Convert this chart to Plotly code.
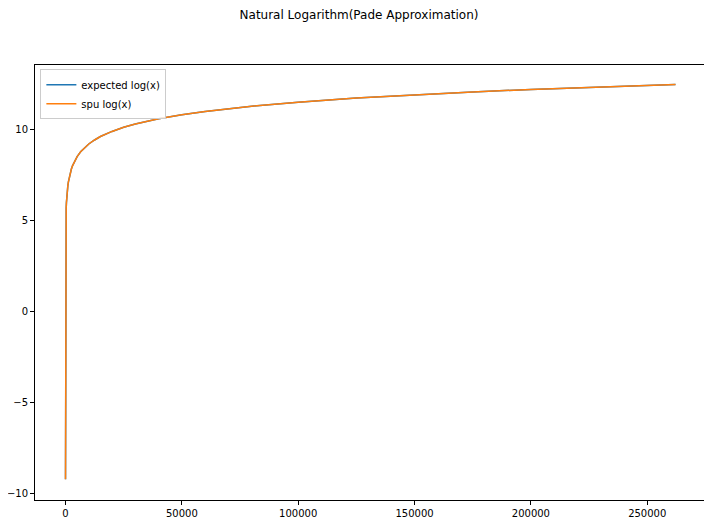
import plotly.graph_objs as go

# points (x, ln x)
x_vals = [0.0001, 0.001, 0.01, 0.1, 1, 10, 50, 100, 150, 200, 250, 300, 400, 500,
          600, 750, 1000, 1250, 1500, 1750, 2000, 2500, 3000, 3500, 4000, 5000,
          6500, 8000, 10000, 12500, 15000, 20000, 25000, 30000, 40000, 50000,
          60000, 80000, 100000, 125000, 150000, 175000, 200000, 225000, 250000,
          262144]
expected_log = [-9.21, -6.91, -4.61, -2.30, 0.00, 2.30, 3.91, 4.61, 5.01, 5.30, 5.52,
                5.70, 5.99, 6.21, 6.40, 6.62, 6.91, 7.13, 7.31, 7.47, 7.60, 7.82, 8.01,
                8.16, 8.29, 8.52, 8.78, 8.99, 9.21, 9.43, 9.62, 9.90, 10.13, 10.31,
                10.60, 10.82, 11.00, 11.29, 11.51, 11.74, 11.92, 12.07, 12.21, 12.32,
                12.43, 12.48]
spu_log = [-9.21, -6.91, -4.61, -2.30, 0.00, 2.30, 3.91, 4.61, 5.01, 5.30, 5.52,
           5.70, 5.99, 6.21, 6.40, 6.62, 6.91, 7.13, 7.31, 7.47, 7.60, 7.82, 8.01,
           8.16, 8.29, 8.52, 8.78, 8.99, 9.21, 9.43, 9.62, 9.90, 10.13, 10.31,
           10.60, 10.82, 11.00, 11.29, 11.51, 11.74, 11.92, 12.07, 12.21, 12.32,
           12.43, 12.48]

x_ticks = [0, 50000, 100000, 150000, 200000, 250000]
y_ticks = [-10, -5, 0, 5, 10]

fig = go.Figure()
fig.add_trace(go.Scatter(x=x_vals, y=expected_log, mode="lines", name="expected log(x)",
                         line=dict(color="#1f77b4", width=1.5)))
fig.add_trace(go.Scatter(x=x_vals, y=spu_log, mode="lines", name="spu log(x)",
                         line=dict(color="#ff7f0e", width=1.5)))

axis_style = dict(showline=True, linecolor="black", linewidth=1, mirror=True,
                  showgrid=False, zeroline=False, ticks="outside", ticklen=4,
                  tickcolor="black", tickfont=dict(size=10, color="black"),
                  automargin=False)

# page body adds an 8px margin, so the figure is a bit smaller than the window
fig.update_layout(
    width=704, height=515,
    margin=dict(l=27, r=6, t=57, b=23),
    paper_bgcolor="white", plot_bgcolor="white",
    font=dict(family="DejaVu Sans", size=10, color="black"),
    title=dict(text="Natural Logarithm(Pade Approximation)", x=0.4986, xanchor="center",
               y=0.986, yanchor="middle", font=dict(size=12, color="black")),
    xaxis=dict(range=[-13107, 275251], tickvals=x_ticks,
               ticktext=[str(v) for v in x_ticks], **axis_style),
    yaxis=dict(range=[-10.35, 13.55], tickvals=y_ticks, **axis_style),
    legend=dict(x=0.008, y=0.99, xanchor="left", yanchor="top",
                bgcolor="rgba(255,255,255,0.8)", bordercolor="#cccccc", borderwidth=1,
                font=dict(size=10), itemwidth=30, tracegroupgap=0),
    showlegend=True,
)

fig.write_html("out.html")
